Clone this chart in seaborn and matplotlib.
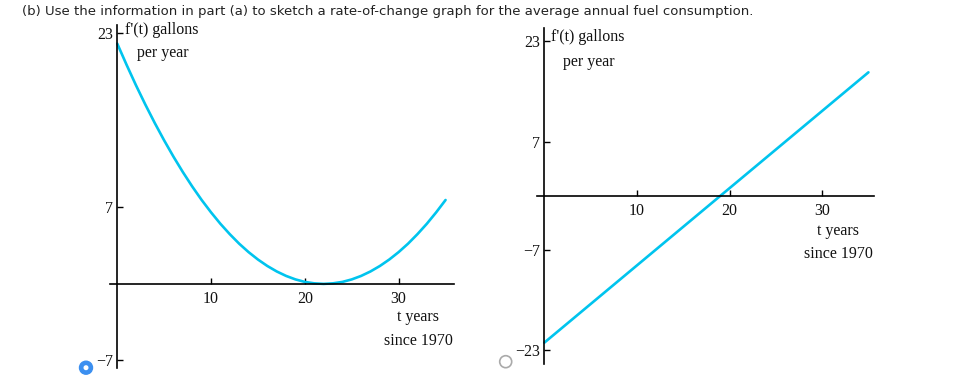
import numpy as np
import pandas as pd
import seaborn as sns
import matplotlib
matplotlib.use("Agg")
import matplotlib.pyplot as plt
from matplotlib.patches import Circle

# ---- data ----
t_left = list(range(0, 36))
rate_left = [22.0, 20.05, 18.18, 16.41, 14.73, 13.14, 11.64, 10.23, 8.91, 7.68,
             6.55, 5.5, 4.55, 3.68, 2.91, 2.23, 1.64, 1.14, 0.73, 0.41,
             0.18, 0.05, 0.0, 0.05, 0.18, 0.41, 0.73, 1.14, 1.64, 2.23,
             2.91, 3.68, 4.55, 5.5, 6.55, 7.68]

t_right = [0, 19, 35]
rate_right = [-19.0, 0.0, 16.0]

x_ticks = [10, 20, 30]
left_yticks = [-7, 7, 23]
left_ylabels = ["\u22127", "7", "23"]
right_yticks = [-20, -7, 7, 20]
right_ylabels = ["\u221223", "\u22127", "7", "23"]

title = ("(b) Use the information in part (a) to sketch a rate-of-change graph "
         "for the average annual fuel consumption.")

sns.set_style("white")
plt.rcParams["font.family"] = ["Liberation Serif", "DejaVu Serif"]

W, H = 967, 388
fig = plt.figure(figsize=(W / 100, H / 100), dpi=100)

LINE = "#00c4ee"
SERIF = "Liberation Serif"
FS = 11.5

def px_axes(x0, y_top, x1, y_bot):
    return fig.add_axes([x0 / W, (H - y_bot) / H, (x1 - x0) / W, (y_bot - y_top) / H])

axL = px_axes(110, 25, 454, 368)
axR = px_axes(536.7, 28.3, 874, 364.3)

dfL = pd.DataFrame({"t": t_left, "r": rate_left})
dfR = pd.DataFrame({"t": t_right, "r": rate_right})
sns.lineplot(data=dfL, x="t", y="r", ax=axL, color=LINE, lw=1.9)
sns.lineplot(data=dfR, x="t", y="r", ax=axR, color=LINE, lw=1.9)

axL.set_xlim(-0.77, 35.9)
axL.set_ylim(-7.7, 23.7)
axR.set_xlim(-0.82, 35.6)
axR.set_ylim(-21.8, 21.7)

for ax, yt, yl in ((axL, left_yticks, left_ylabels), (axR, right_yticks, right_ylabels)):
    ax.set_facecolor("none")
    for s in ("top", "right"):
        ax.spines[s].set_visible(False)
    for s in ("left", "bottom"):
        ax.spines[s].set_position(("data", 0))
        ax.spines[s].set_color("black")
        ax.spines[s].set_linewidth(1.2)
    ax.set_xticks(x_ticks)
    ax.set_xticklabels([str(v) for v in x_ticks])
    ax.set_yticks(yt)
    ax.set_yticklabels(yl)
    ax.tick_params(axis="both", direction="in", length=4, width=1.0, color="black",
                   labelsize=FS, labelcolor="#111111", bottom=True, left=True,
                   top=False, right=False)
    ax.tick_params(axis="x", pad=5)
    ax.tick_params(axis="y", pad=3)
    for lab in ax.get_xticklabels() + ax.get_yticklabels():
        lab.set_fontfamily(SERIF)
    ax.set_xlabel("")
    ax.set_ylabel("")

txt = dict(fontsize=FS, fontfamily=SERIF, color="#111111")
# left panel labels
axL.text(0.83, 23.2, "f'(t) gallons", ha="left", va="center", **txt)
axL.text(2.08, 21.1, "per year", ha="left", va="center", **txt)
axL.text(32.1, -3.0, "t years", ha="center", va="center", **txt)
axL.text(32.1, -5.2, "since 1970", ha="center", va="center", **txt)
# right panel labels
axR.text(0.72, 20.6, "f'(t) gallons", ha="left", va="center", **txt)
axR.text(1.99, 17.4, "per year", ha="left", va="center", **txt)
axR.text(31.75, -4.5, "t years", ha="center", va="center", **txt)
axR.text(31.75, -7.5, "since 1970", ha="center", va="center", **txt)

fig.text(22 / W, 1 - 11 / H, title, ha="left", va="center", fontsize=9.5,
         fontfamily="DejaVu Sans", color="#222222")

# radio buttons
def circ(xp, yp, r, **kw):
    c = Circle((xp, H - yp), r, transform=None, **kw)
    fig.add_artist(c)

circ(86, 367.7, 6.5, facecolor="#3b8ff0", edgecolor="#3b8ff0")
circ(86, 367.7, 1.8, facecolor="white", edgecolor="white")
circ(505.7, 361.7, 6.0, facecolor="white", edgecolor="#aaaaaa", lw=1.2)

fig.savefig("out.png", dpi=100)
